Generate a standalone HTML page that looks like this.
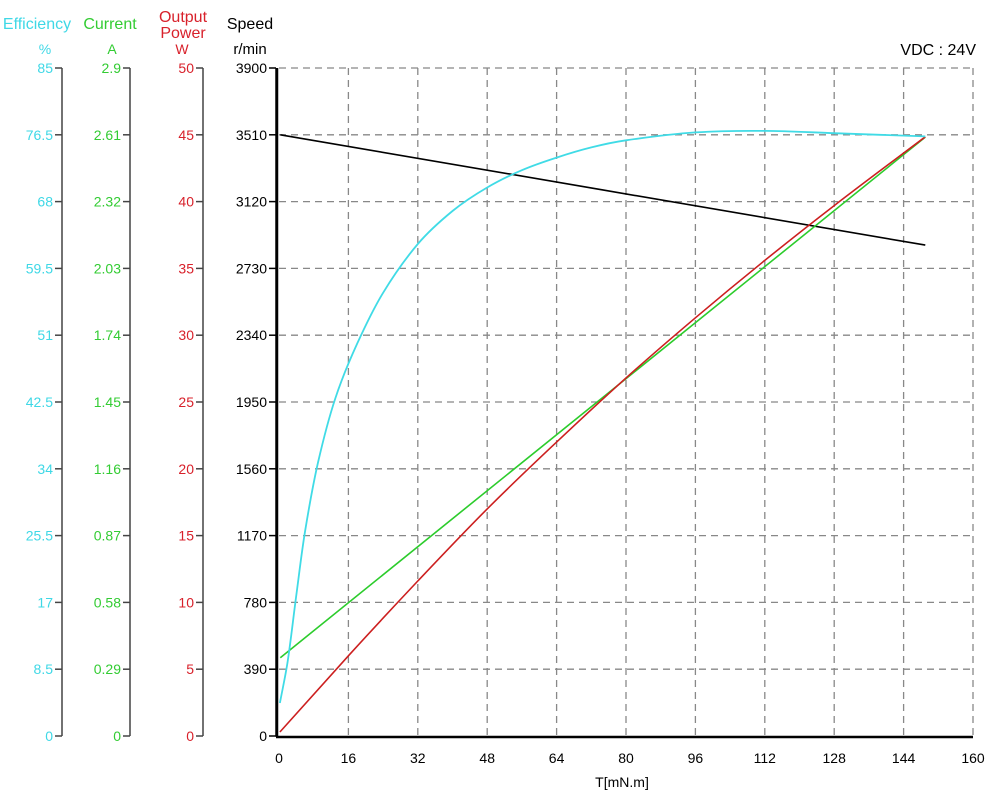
<!DOCTYPE html>
<html><head><meta charset="utf-8"><style>
html,body{margin:0;padding:0;background:#fff;}
svg{display:block;font-family:"Liberation Sans",sans-serif;}
</style></head><body>
<svg id="chart" width="1000" height="803" viewBox="0 0 1000 803" xmlns="http://www.w3.org/2000/svg">
<g id="grid"></g>
<g id="axes"></g>
<g id="series"></g>
<g font-size="16">
<text x="37" y="29" text-anchor="middle" fill="#3fd8e6">Efficiency</text>
<text x="110" y="29" text-anchor="middle" fill="#33cc33">Current</text>
<text x="183" y="22" text-anchor="middle" fill="#d8212b">Output</text>
<text x="183" y="38" text-anchor="middle" fill="#d8212b">Power</text>
<text x="250" y="29" text-anchor="middle" fill="#000">Speed</text>
<text x="45" y="54" text-anchor="middle" font-size="14" fill="#3fd8e6">%</text>
<text x="112" y="54" text-anchor="middle" font-size="14" fill="#33cc33">A</text>
<text x="182" y="54" text-anchor="middle" font-size="14" fill="#d8212b">W</text>
<text x="250" y="54" text-anchor="middle" font-size="15" fill="#000">r/min</text>
<text x="976" y="55" text-anchor="end" font-size="16" fill="#000">VDC : 24V</text>
<text x="622" y="787" text-anchor="middle" font-size="14" fill="#000">T[mN.m]</text>
</g>
</svg>
<script>
const xTicks = [0,16,32,48,64,80,96,112,128,144,160];
const speedTicks = [0,390,780,1170,1560,1950,2340,2730,3120,3510,3900];
const effTicks = ["0","8.5","17","25.5","34","42.5","51","59.5","68","76.5","85"];
const curTicks = ["0","0.29","0.58","0.87","1.16","1.45","1.74","2.03","2.32","2.61","2.9"];
const powTicks = ["0","5","10","15","20","25","30","35","40","45","50"];
const effTorque = [0.2,2,4,6,9,13,18,24,32,40,48,56,64,72,80,96,112,128,149];
const efficiency = [4.2,9.5,18,26,34.8,43,49.9,56.4,62.6,66.8,69.8,72,73.6,74.9,75.8,76.8,77,76.7,76.3];
const lineTorque = [0.3,149];
const speed = [3510,2866];
const current = [0.34,2.60];
const powTorque = [0.2,16,32,48,64,80,96,112,128,149];
const power = [0.3,6.0,11.6,17,22,26.8,31.3,35.6,39.7,44.85];

const NS="http://www.w3.org/2000/svg";
const X0=279, X1=973, Y0=736, Y1=68;
const xs=t=>X0+(X1-X0)*t/160;
const ySpeed=v=>Y0-(Y0-Y1)*v/3900;
const yEff=v=>Y0-(Y0-Y1)*v/85;
const yCur=v=>Y0-(Y0-Y1)*v/2.9;
const yPow=v=>Y0-(Y0-Y1)*v/50;
function mk(tag,attrs,parent){const e=document.createElementNS(NS,tag);for(const k in attrs)e.setAttribute(k,attrs[k]);parent.appendChild(e);return e;}
const grid=document.getElementById('grid'),axes=document.getElementById('axes'),series=document.getElementById('series');
xTicks.forEach((t,i)=>{if(i===0)return;
 const l=mk('line',{x1:xs(t),x2:xs(t),y1:Y1,y2:Y0,stroke:'#888','stroke-width':1.3,'stroke-dasharray':'7,5'},grid);
 
 });
speedTicks.forEach((v,i)=>{if(i===0)return;
 const l=mk('line',{x1:X0,x2:X1,y1:ySpeed(v),y2:ySpeed(v),stroke:'#888','stroke-width':1.3,'stroke-dasharray':'7,5'},grid);
 
 });
let a=mk('line',{x1:X0-2,x2:X0-2,y1:Y1,y2:Y0+1,stroke:'#000','stroke-width':2.5},axes);


a=mk('line',{x1:X0-3,x2:X1,y1:Y0+1,y2:Y0+1,stroke:'#000','stroke-width':2.5},axes);


xTicks.forEach(t=>{const tx=mk('text',{x:xs(t),y:763,'text-anchor':'middle','font-size':14,fill:'#000'},axes);tx.textContent=t;
 
 });
function sideAxis(ax,labels,color,name,lineColor){
 const l=mk('line',{x1:ax,x2:ax,y1:Y1,y2:Y0,stroke:lineColor,'stroke-width':1.5},axes);
 
 
 labels.forEach((lab,i)=>{const y=ySpeed(speedTicks[i]);
  mk('line',{x1:ax-7,x2:ax,y1:y,y2:y,stroke:lineColor,'stroke-width':1.5},axes);
  const tx=mk('text',{x:ax-9,y:y+5,'text-anchor':'end','font-size':14,fill:color},axes);tx.textContent=lab;
  
  });
}
sideAxis(62,effTicks,'#3fd8e6','efficiency','#444');
sideAxis(130,curTicks,'#33cc33','current','#444');
sideAxis(203,powTicks,'#d8212b','power','#444');
sideAxis(X0-3,speedTicks.map(String),'#000','speed','#000');
function smooth(xsArr,ysArr,yf,color,name,w){
 const P=xsArr.map((t,i)=>[xs(t),yf(ysArr[i])]), n=P.length;
 let d='M'+P[0][0].toFixed(1)+','+P[0][1].toFixed(1);
 const dist=(p,q)=>Math.hypot(q[0]-p[0],q[1]-p[1])||1e-6;
 for(let i=0;i<n-1;i++){
  const p0=P[i-1]||P[i],p1=P[i],p2=P[i+1],p3=P[i+2]||P[i+1];
  const d1=dist(p0,p1),d2=dist(p1,p2),d3=dist(p2,p3);
  let t1,t2;
  if(i>0){const s=d2/(d1+d2);t1=[(p2[0]-p0[0])*s,(p2[1]-p0[1])*s];}else{t1=[(p2[0]-p1[0]),(p2[1]-p1[1])];}
  if(i<n-2){const s=d2/(d2+d3);t2=[(p3[0]-p1[0])*s,(p3[1]-p1[1])*s];}else{t2=[(p2[0]-p1[0]),(p2[1]-p1[1])];}
  d+=' C'+(p1[0]+t1[0]/3).toFixed(1)+','+(p1[1]+t1[1]/3).toFixed(1)+' '+(p2[0]-t2[0]/3).toFixed(1)+','+(p2[1]-t2[1]/3).toFixed(1)+' '+p2[0].toFixed(1)+','+p2[1].toFixed(1);
 }
 const p=mk('path',{d:d,fill:'none',stroke:color,'stroke-width':w,'stroke-linejoin':'round'},series);
 
 
}
smooth(lineTorque,speed,ySpeed,'#000','speed-line',1.6);
smooth(lineTorque,current,yCur,'#2ccc2c','current-line',1.6);
smooth(powTorque,power,yPow,'#cc1f1f','power-line',1.6);
smooth(effTorque,efficiency,yEff,'#40dbe6','efficiency-curve',1.8);
</script>
</body></html>
